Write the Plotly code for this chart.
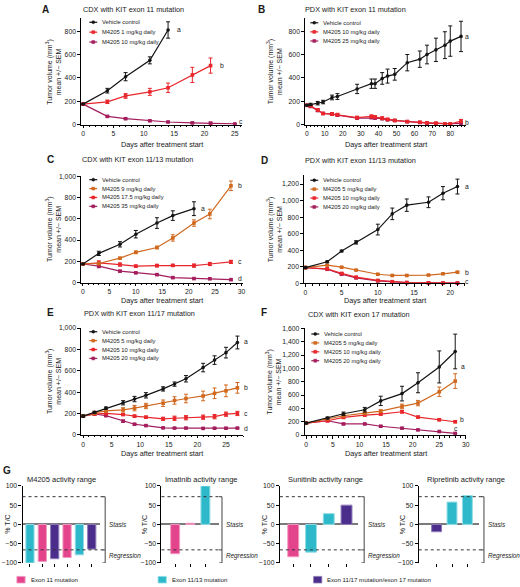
import plotly.graph_objects as go

# ---------------- data ----------------
A_veh_days = [0, 4, 7, 11, 14]
A_veh = [175, 290, 410, 550, 810]
A_veh_err = [0, 20, 35, 30, 70]
A_1mg_days = [0, 4, 7, 11, 14, 18, 21]
A_1mg = [175, 195, 245, 280, 315, 425, 505]
A_1mg_err = [0, 15, 20, 30, 40, 65, 65]
A_10mg_days = [0, 4, 7, 11, 14, 18, 21, 25]
A_10mg = [175, 70, 50, 32, 22, 14, 12, 5]
A_10mg_err = [0, 5, 5, 5, 5, 6, 8, 3]

B_days = [0, 2, 6, 9, 14, 17, 28, 36, 38, 42, 45, 49, 56, 63, 67, 72, 77, 80, 86]
B_veh = [165, 172, 183, 193, 232, 240, 305, 350, 350, 395, 415, 430, 530, 560, 600, 640, 680, 715, 755]
B_veh_err = [5, 10, 15, 15, 20, 25, 40, 40, 40, 50, 60, 50, 70, 70, 80, 100, 115, 130, 130]
B_10mg = [165, 160, 125, 95, 90, 85, 60, 70, 65, 55, 45, 35, 25, 20, 15, 12, 5, 5, 30]
B_10mg_err = [5, 8, 10, 8, 10, 10, 10, 12, 10, 10, 8, 8, 6, 6, 5, 5, 4, 4, 14]
B_25mg = [165, 155, 120, 95, 90, 80, 55, 60, 55, 50, 40, 35, 25, 18, 12, 10, 5, 5, 10]
B_25mg_err = [5, 8, 8, 8, 8, 8, 8, 10, 8, 8, 6, 6, 5, 5, 4, 4, 3, 3, 5]

C_veh_days = [0, 3, 7, 10, 14, 17, 21]
C_veh = [175, 275, 360, 455, 560, 630, 695]
C_veh_err = [0, 20, 25, 35, 50, 45, 65]
C_days = [0, 3, 7, 10, 14, 17, 21, 24, 28]
C_9mg = [175, 180, 230, 285, 330, 420, 560, 645, 910]
C_9mg_err = [0, 10, 8, 12, 12, 30, 30, 45, 45]
C_17mg = [175, 185, 170, 155, 160, 162, 160, 175, 195]
C_17mg_err = [0, 20, 15, 10, 12, 10, 15, 15, 15]
C_35mg = [175, 155, 108, 92, 75, 47, 38, 36, 28]
C_35mg_err = [0, 15, 8, 6, 6, 6, 5, 5, 5]

D_days = [0, 3, 5, 7, 10, 12, 14, 17, 19, 21]
D_veh = [190, 260, 390, 495, 650, 840, 945, 980, 1090, 1170]
D_veh_err = [10, 10, 10, 20, 65, 70, 75, 65, 80, 90]
D_5mg = [190, 220, 195, 160, 110, 95, 95, 100, 115, 135]
D_5mg_err = [5, 5, 5, 5, 5, 5, 5, 5, 5, 8]
D_10mg = [190, 175, 120, 75, 35, 20, 10, 5, 3, 3]
D_10mg_err = [5, 5, 10, 8, 6, 4, 3, 2, 2, 2]
D_20mg = [190, 170, 110, 65, 30, 15, 8, 5, 3, 3]
D_20mg_err = [5, 5, 8, 6, 5, 4, 3, 2, 2, 2]

E_days = [0, 2, 4, 7, 9, 11, 14, 16, 18, 21, 23, 25, 27]
E_veh = [175, 210, 250, 300, 335, 370, 430, 475, 525, 630, 700, 770, 865]
E_veh_err = [10, 10, 10, 20, 25, 25, 20, 20, 30, 40, 40, 50, 60]
E_5mg = [175, 205, 225, 234, 250, 270, 296, 322, 340, 364, 389, 412, 440]
E_5mg_err = [10, 15, 15, 20, 25, 25, 30, 35, 40, 45, 50, 55, 50]
E_10mg = [175, 195, 200, 190, 175, 165, 150, 155, 160, 165, 170, 193, 200]
E_10mg_err = [10, 10, 10, 10, 10, 10, 15, 20, 20, 20, 20, 20, 20]
E_20mg = [175, 195, 180, 128, 99, 86, 65, 63, 63, 60, 62, 62, 63]
E_20mg_err = [10, 10, 10, 10, 8, 6, 5, 5, 5, 5, 5, 5, 5]

F_days = [0, 4, 7, 11, 14, 18, 21, 25, 28]
F_veh = [180, 256, 320, 380, 513, 622, 785, 1022, 1254]
F_veh_err = [10, 15, 25, 35, 70, 110, 150, 240, 260]
F_5mg = [180, 245, 290, 330, 360, 430, 480, 650, 810]
F_5mg_err = [10, 10, 15, 20, 20, 35, 40, 70, 110]
F_10mg = [180, 215, 265, 300, 315, 350, 270, 230, 200]
F_10mg_err = [10, 10, 15, 15, 15, 20, 15, 15, 15]
F_20mg = [180, 215, 167, 167, 133, 104, 78, 54, 25]
F_20mg_err = [10, 10, 10, 10, 10, 8, 8, 6, 5]

G1_vals = [-100, -96, -89, -86, -79, -64]
G1_groups = ["11/13", "11", "11/17", "11", "11/13", "11/17"]
G2_vals = [-76, 3, 100]
G2_groups = ["11", "11", "11/13"]
G3_vals = [-84, -72, 28, 50]
G3_groups = ["11", "11/13", "11/13", "11/17"]
G4_vals = [-19, 58, 75]
G4_groups = ["11/17", "11/13", "11/13"]
G_upper = 72
G_lower = -66

# ---------------- style ----------------
W, H = 520, 587
FONT = "Liberation Sans, Arial, sans-serif"
BLACK = "#141414"
RED = "#E8262B"
MAG = "#A41E5E"
ORA = "#D0691F"
BAR_COL = {"11": "#E4448C", "11/13": "#2EB9CA", "11/17": "#4B2D8C"}
BAR_EDGE = {"11": "#F29BC2", "11/13": "#92DDE7", "11/17": "#8F7DB8"}


def fx(px):
    return px / W


def fy(py):
    return 1 - py / H


def axname(kind, i):
    return kind + ("" if i == 1 else str(i))


def axref(k, i):
    return k + ("" if i == 1 else str(i))


fig = go.Figure()
layout = dict(width=W, height=H, margin=dict(l=0, r=0, t=0, b=0),
              paper_bgcolor="white", plot_bgcolor="white", showlegend=False,
              font=dict(family=FONT, color="#1a1a1a"))
annotations = []
shapes = []


def text(x, y, t, size, xanchor="center", yanchor="middle", bold=False, italic=False, angle=0,
         xref="paper", yref="paper"):
    if bold:
        t = "<b>" + t + "</b>"
    if italic:
        t = "<i>" + t + "</i>"
    annotations.append(dict(x=x, y=y, xref=xref, yref=yref, text=t, showarrow=False,
                            xanchor=xanchor, yanchor=yanchor, textangle=angle,
                            font=dict(size=size, family=FONT, color="#1a1a1a")))


def line_panel(i, xpx, ypx, xrange, xdtick, xminor, yrange, ytickvals, yticktext, series,
               letters, title, title_xy, label, label_xy, ytitle_x, xtitle_y, leg_x, leg_y0, leg_dy=9.0):
    xa, ya = axref("x", i), axref("y", i)
    layout[axname("xaxis", i)] = dict(
        domain=[fx(xpx[0]), fx(xpx[1])], range=xrange, anchor=ya, showline=True,
        linecolor="black", linewidth=1.1, ticks="outside", ticklen=2.5, tickwidth=1,
        tickcolor="black", tickmode="linear", tick0=0, dtick=xdtick,
        tickfont=dict(size=6.8), showgrid=False, zeroline=False,
        minor=dict(tickmode="linear", tick0=0, dtick=xminor, ticks="outside", ticklen=1.6,
                   tickcolor="black", tickwidth=0.8, showgrid=False))
    layout[axname("yaxis", i)] = dict(
        domain=[fy(ypx[1]), fy(ypx[0])], range=yrange, anchor=xa, showline=True,
        linecolor="black", linewidth=1.1, ticks="outside", ticklen=3, tickwidth=1,
        tickcolor="black", tickmode="array", tickvals=ytickvals, ticktext=yticktext,
        tickfont=dict(size=6.8), showgrid=False, zeroline=False)
    for name, days, vals, errs, color, sym in reversed(series):
        fig.add_trace(go.Scatter(
            x=days, y=vals, mode="lines+markers", name=name,
            line=dict(color=color, width=1.2),
            marker=dict(color=color, size=3.6, symbol=sym),
            error_y=dict(type="data", array=errs, visible=True, color=color, thickness=1, width=2),
            xaxis=xa, yaxis=ya, showlegend=False, cliponaxis=False))
    # manual legend
    for k, (name, days, vals, errs, color, sym) in enumerate(series):
        yy = leg_y0 + k * leg_dy
        shapes.append(dict(type="line", xref="paper", yref="paper", x0=fx(leg_x), x1=fx(leg_x + 8),
                           y0=fy(yy), y1=fy(yy), line=dict(color=color, width=1.2)))
        cx = leg_x + 4
        shapes.append(dict(type="circle" if sym == "circle" else "rect", xref="paper", yref="paper",
                           x0=fx(cx - 1.5), x1=fx(cx + 1.5), y0=fy(yy + 1.5), y1=fy(yy - 1.5),
                           fillcolor=color, line=dict(color=color, width=0.5)))
        text(fx(leg_x + 11), fy(yy), name, 5.8, xanchor="left")
    for t, lx, ly, anchor in letters:
        text(lx, ly, t, 6.8, xanchor=anchor, xref=xa, yref=ya)
    text(fx(title_xy[0]), fy(title_xy[1]), title, 7.3)
    text(fx(label_xy[0]), fy(label_xy[1]), label, 10, bold=True)
    text(fx(ytitle_x), fy((ypx[0] + ypx[1]) / 2), "Tumor volume (mm<sup>3</sup>)<br>mean +/\u2212 SEM",
         7, angle=-90)
    text(fx((xpx[0] + xpx[1]) / 2), fy(xtitle_y), "Days after treatment start", 7.3)


def bar_panel(i, axis_px, end_px, bracket_px, first_px, step_px, bar_px, vals, groups,
              title, title_cx, ytitle_x):
    xa, ya = axref("x", i), axref("y", i)
    n = len(vals)
    ytop, ybot = 487.7, 565.7
    layout[axname("xaxis", i)] = dict(
        domain=[fx(axis_px), fx(end_px)],
        range=[-(first_px - axis_px) / step_px, (end_px - first_px) / step_px],
        anchor=ya, showline=False, ticks="outside", ticklen=3, tickwidth=1, tickcolor="black",
        tickmode="array", tickvals=list(range(n)), showticklabels=False,
        showgrid=False, zeroline=False)
    layout[axname("yaxis", i)] = dict(
        domain=[fy(ybot), fy(ytop)], range=[-100, 100], anchor=xa, showline=True,
        linecolor="black", linewidth=1.1, ticks="outside", ticklen=3, tickwidth=1,
        tickcolor="black", tickmode="array", tickvals=[-100, -50, 0, 50, 100],
        ticktext=["\u2212100", "\u221250", "0", "50", "100"], tickfont=dict(size=6.8),
        showgrid=False, zeroline=True, zerolinecolor="#7a7a7a", zerolinewidth=1.6)
    fig.add_trace(go.Bar(
        x=list(range(n)), y=vals, width=bar_px / step_px,
        marker=dict(color=[BAR_COL[g] for g in groups],
                    line=dict(color=[BAR_EDGE[g] for g in groups], width=1)),
        xaxis=xa, yaxis=ya, showlegend=False))
    for lvl in (G_upper, G_lower):
        shapes.append(dict(type="line", xref="paper", yref=ya, x0=fx(axis_px), x1=fx(bracket_px),
                           y0=lvl, y1=lvl, line=dict(color="#333", width=1, dash="dot")))
    shapes.append(dict(type="line", xref="paper", yref=ya, x0=fx(bracket_px), x1=fx(bracket_px),
                       y0=G_upper, y1=-100, line=dict(color="#555", width=1.1)))
    for lvl in (G_upper, G_lower, -100):
        shapes.append(dict(type="line", xref="paper", yref=ya, x0=fx(bracket_px - 3), x1=fx(bracket_px),
                           y0=lvl, y1=lvl, line=dict(color="#555", width=1.1)))
    text(fx(bracket_px + 2), 0, "Stasis", 6.3, xanchor="left", italic=True, yref=ya)
    text(fx(bracket_px + 2), -82, "Regression", 6.3, xanchor="left", italic=True, yref=ya)
    text(fx(title_cx), fy(481), title, 7.5)
    text(fx(ytitle_x), fy((ytop + ybot) / 2), "% T/C", 7, angle=-90)


# ---------------- panels A-F ----------------
line_panel(1, (81, 243), (14.5, 122), [-0.28, 26.2], 5, 1, [0, 910],
           [0, 200, 400, 600, 800], ["0", "200", "400", "600", "800"],
           [("Vehicle control", A_veh_days, A_veh, A_veh_err, BLACK, "circle"),
            ("M4205 1 mg/kg daily", A_1mg_days, A_1mg, A_1mg_err, RED, "square"),
            ("M4205 10 mg/kg daily", A_10mg_days, A_10mg, A_10mg_err, MAG, "square")],
           [("a", 15.2, 814, "left"), ("b", 22.2, 504, "left"), ("c", 25.4, 25, "left")],
           "CDX with KIT exon 11 mutation", (134, 5.3), "A", (44.5, 5.5), 52.7, 142.5, 89, 18.5, 10)

line_panel(2, (306.7, 469), (14.5, 122), [-0.9, 89], 10, 2, [0, 910],
           [0, 200, 400, 600, 800], ["0", "200", "400", "600", "800"],
           [("Vehicle control", B_days, B_veh, B_veh_err, BLACK, "circle"),
            ("M4205 10 mg/kg daily", B_days, B_10mg, B_10mg_err, RED, "square"),
            ("M4205 25 mg/kg daily", B_days, B_25mg, B_25mg_err, MAG, "square")],
           [("a", 87.3, 752, "left"), ("b", 87.3, 20, "left")],
           "PDX with KIT exon 11 mutation", (357.5, 5.3), "B", (263, 5.5), 276, 142.5, 311.7, 19, 9.2)

line_panel(3, (81, 244), (174.3, 282), [-0.3, 30.3], 5, 1, [0, 1000],
           [0, 200, 400, 600, 800, 1000], ["0", "200", "400", "600", "800", "1,000"],
           [("Vehicle control", C_veh_days, C_veh, C_veh_err, BLACK, "circle"),
            ("M4205 9 mg/kg daily", C_days, C_9mg, C_9mg_err, ORA, "square"),
            ("M4205 17.5 mg/kg daily", C_days, C_17mg, C_17mg_err, RED, "square"),
            ("M4205 35 mg/kg daily", C_days, C_35mg, C_35mg_err, MAG, "square")],
           [("a", 21.9, 700, "left"), ("b", 28.9, 910, "left"), ("c", 28.9, 200, "left"),
            ("d", 28.9, 35, "left")],
           "CDX with KIT exon 11/13 mutation", (138, 157.3), "C", (49.7, 157.3), 53, 300, 89, 177.8)

line_panel(4, (305.7, 468), (173.3, 282.7), [-0.15, 22.1], 5, 1, [0, 1307],
           [0, 200, 400, 600, 800, 1000, 1200],
           ["0", "200", "400", "600", "800", "1,000", "1,200"],
           [("Vehicle control", D_days, D_veh, D_veh_err, BLACK, "circle"),
            ("M4205 5 mg/kg daily", D_days, D_5mg, D_5mg_err, ORA, "square"),
            ("M4205 10 mg/kg daily", D_days, D_10mg, D_10mg_err, RED, "square"),
            ("M4205 20 mg/kg daily", D_days, D_20mg, D_20mg_err, MAG, "square")],
           [("a", 21.7, 1170, "left"), ("b", 21.7, 135, "left"), ("c", 21.7, 28, "left")],
           "PDX with KIT exon 11/13 mutation", (362.5, 158.3), "D", (265.8, 158.3), 275, 300, 311.7, 178.4)

line_panel(5, (81, 244), (328, 436), [-0.3, 28.0], 5, 1, [0, 1000],
           [0, 200, 400, 600, 800, 1000], ["0", "200", "400", "600", "800", "1,000"],
           [("Vehicle control", E_days, E_veh, E_veh_err, BLACK, "circle"),
            ("M4205 5 mg/kg daily", E_days, E_5mg, E_5mg_err, ORA, "square"),
            ("M4205 10 mg/kg daily", E_days, E_10mg, E_10mg_err, RED, "square"),
            ("M4205 20 mg/kg daily", E_days, E_20mg, E_20mg_err, MAG, "square")],
           [("a", 27.8, 873, "left"), ("b", 27.8, 442, "left"), ("c", 27.8, 204, "left"),
            ("d", 27.8, 62, "left")],
           "PDX with KIT exon 11/17 mutation", (140, 313.3), "E", (50, 312.5), 53, 455, 89, 331.7)

line_panel(6, (306, 469), (328.3, 436.3), [-0.3, 30.1], 5, 1, [0, 1600],
           [0, 200, 400, 600, 800, 1000, 1200, 1400, 1600],
           ["0", "200", "400", "600", "800", "1,000", "1,200", "1,400", "1,600"],
           [("Vehicle control", F_days, F_veh, F_veh_err, BLACK, "circle"),
            ("M4205 5 mg/kg daily", F_days, F_5mg, F_5mg_err, ORA, "square"),
            ("M4205 10 mg/kg daily", F_days, F_10mg, F_10mg_err, RED, "square"),
            ("M4205 20 mg/kg daily", F_days, F_20mg, F_20mg_err, MAG, "square")],
           [("a", 28.7, 1031, "left"), ("b", 28.6, 227, "left"), ("c", 28.1, 95, "center")],
           "CDX with KIT exon 17 mutation", (360.8, 314.5), "F", (265.5, 312.5), 275, 455, 312.7, 334)

# ---------------- panel G ----------------
text(fx(6.5), fy(472.5), "G", 10, bold=True)
bar_panel(7, 21.7, 100, 105, 29.2, 12.45, 8.3, G1_vals, G1_groups, "M4205 activity range", 61, 6.3)
bar_panel(8, 161.7, 220, 222.7, 175.5, 15.25, 9, G2_vals, G2_groups, "Imatinib activity range", 202.5, 145)
bar_panel(9, 281, 360, 366, 294.5, 17.9, 11, G3_vals, G3_groups, "Sunitinib activity range", 326.7, 265)
bar_panel(10, 421, 482, 486.7, 439, 15.5, 10, G4_vals, G4_groups, "Ripretinib activity range", 468.3, 405)

# bottom legend
for gx, key, label in [(16, "11", "Exon 11 mutation"), (158.3, "11/13", "Exon 11/13 mutation"),
                       (315, "11/17", "Exon 11/17 mutation/exon 17 mutation")]:
    shapes.append(dict(type="rect", xref="paper", yref="paper", x0=fx(gx), x1=fx(gx + 8.3),
                       y0=fy(586), y1=fy(579.3), fillcolor=BAR_COL[key],
                       line=dict(color=BAR_EDGE[key], width=0.8)))
    text(fx(gx + 12), fy(582.6), label, 6.1, xanchor="left")

layout["annotations"] = annotations
layout["shapes"] = shapes
fig.update_layout(**layout)
fig.write_html("out.html")
